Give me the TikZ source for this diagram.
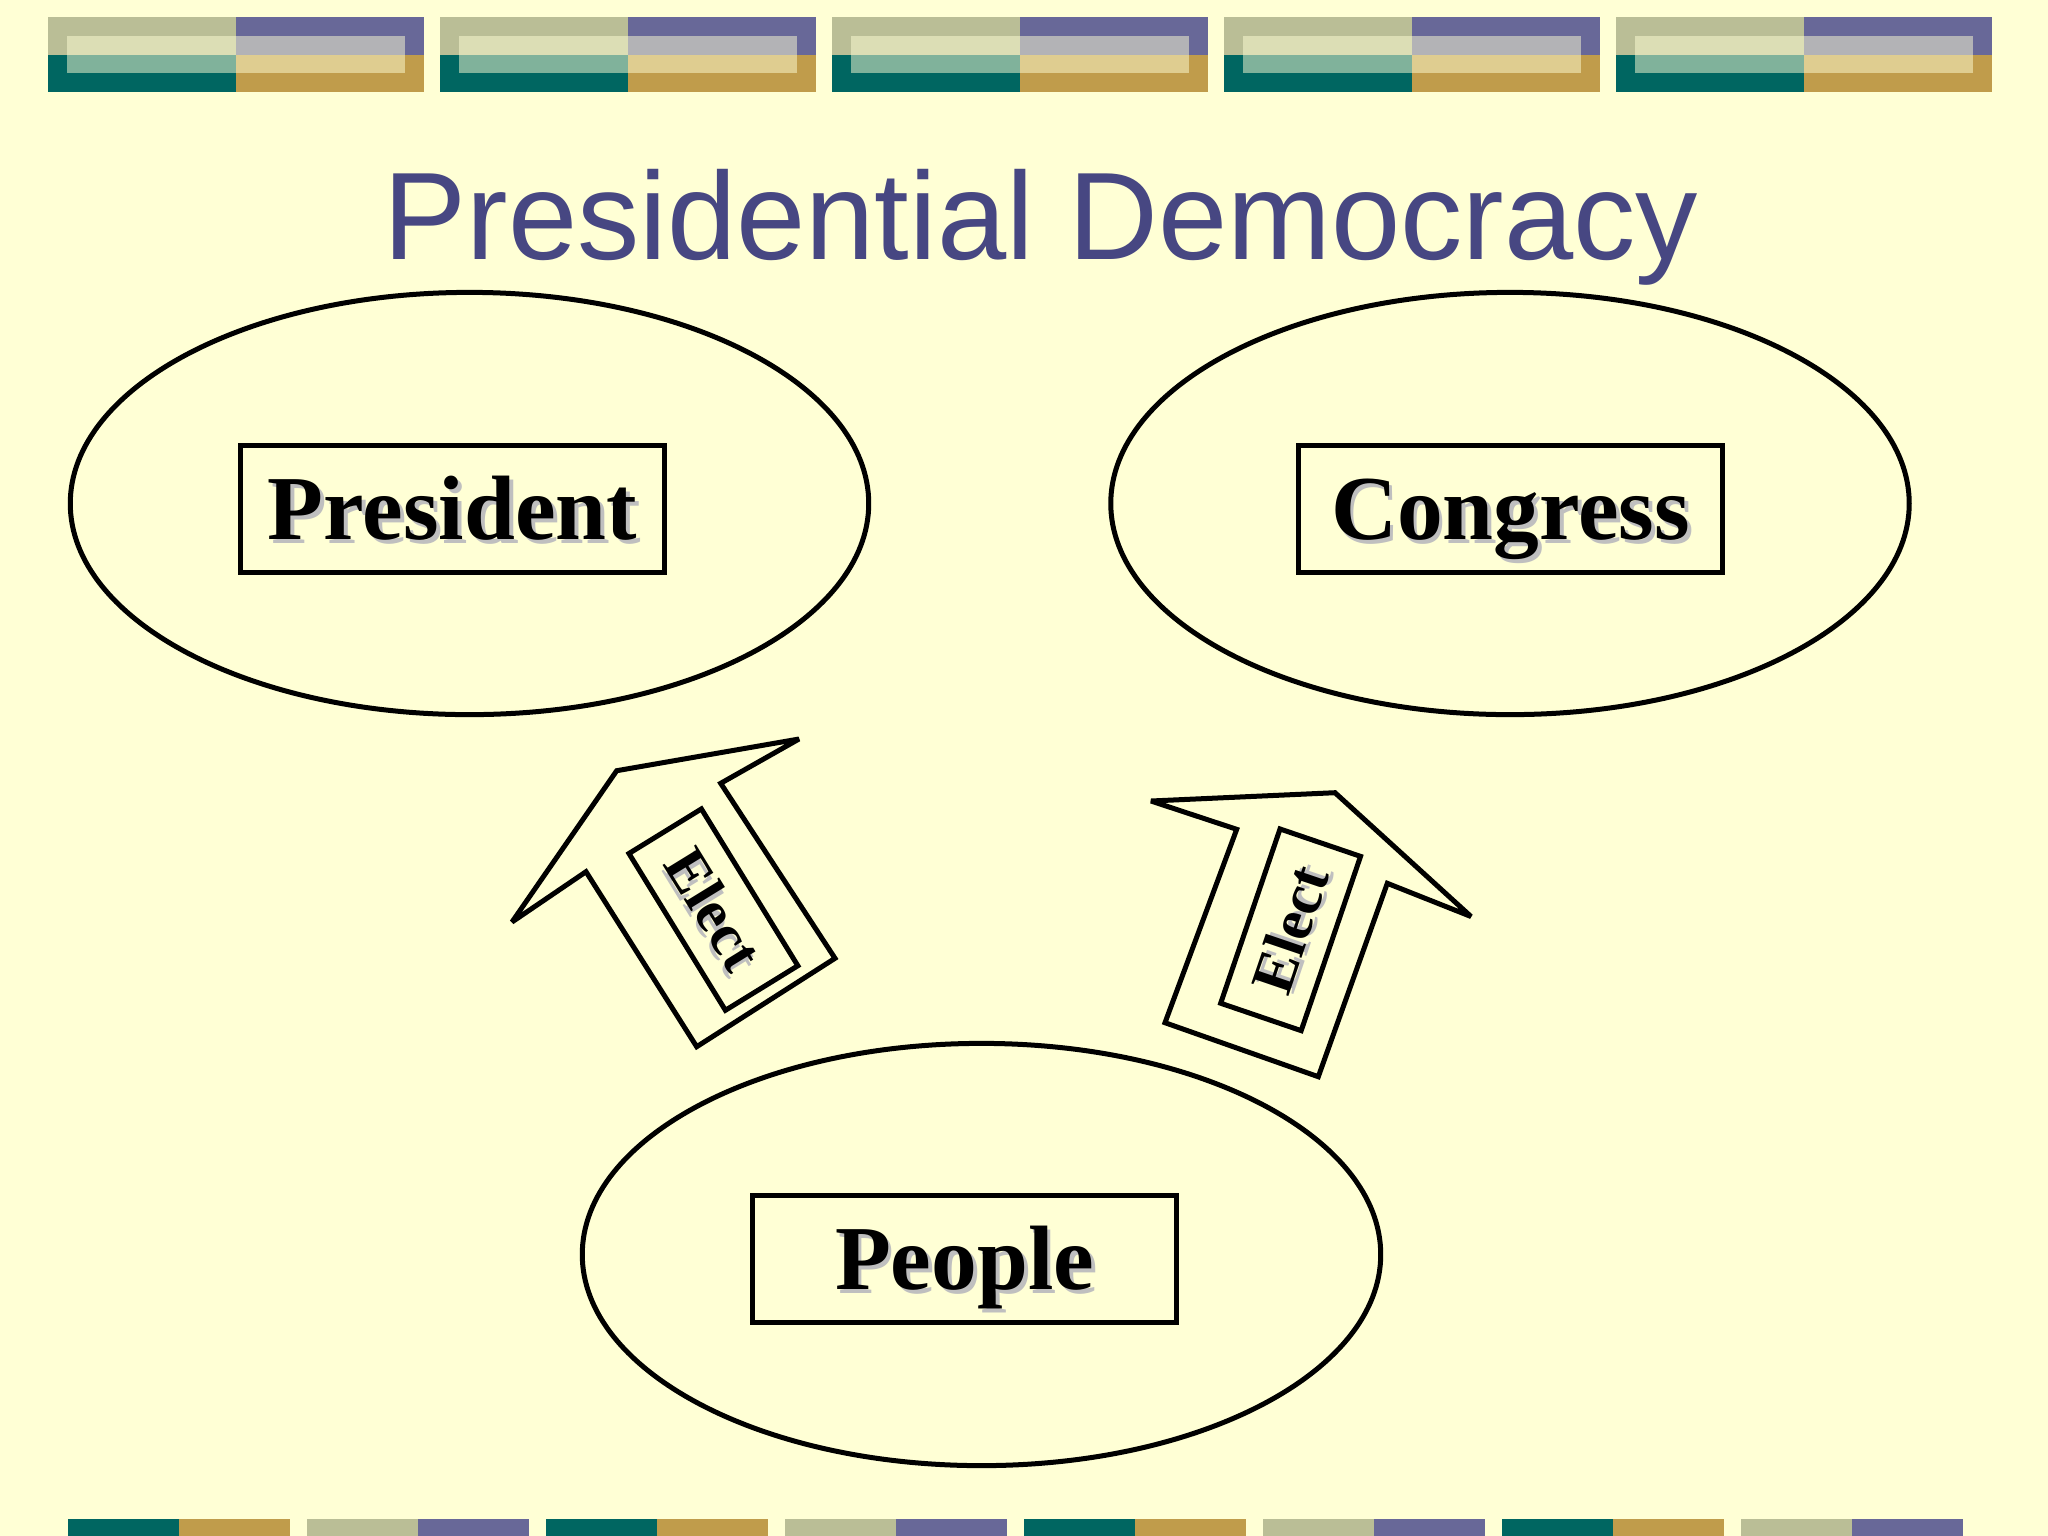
\documentclass[tikz,border=0pt]{standalone}
\usepackage{fontspec}
\setmainfont{Liberation Serif}
\newfontfamily\titlefont{Liberation Sans}
\usetikzlibrary{shapes.geometric}
\definecolor{bg}{HTML}{FFFFD5}
\definecolor{bnrKhaki}{HTML}{BABE96}
\definecolor{bnrPurple}{HTML}{686898}
\definecolor{bnrTeal}{HTML}{006661}
\definecolor{bnrGold}{HTML}{C09C4B}
\definecolor{titleC}{HTML}{474782}
\newcommand\shadowed[1]{\leavevmode\rlap{\kern1.1pt\raisebox{-1.1pt}{\color{black!25}#1}}#1}
\begin{document}
\begin{tikzpicture}[x=0.01cm,y=-0.01cm,
  ell/.style={ellipse,draw,line width=0.05cm,minimum width=7.98cm,minimum height=4.22cm,inner sep=0pt},
  lblbox/.style={draw,line width=0.05cm,minimum width=4.24cm,minimum height=1.27cm,inner sep=0pt,
     font=\bfseries\fontsize{26}{30}\selectfont,text height=17.2pt,text depth=0pt},
  electbox/.style={draw,line width=0.05cm,minimum width=1.84cm,minimum height=0.85cm,inner sep=0pt,
     font=\bfseries\fontsize{17}{20}\selectfont,text height=11.2pt,text depth=0pt},
  blockarrow/.style={draw,line width=0.05cm,line join=miter,miter limit=4,fill=bg}]
\fill[bg] (0,0) rectangle (2048,1536);
\useasboundingbox (0,0) rectangle (2048,1536);
% top banner
\foreach \i in {0,...,4}{
  \begin{scope}[shift={(48+392*\i,17)}]
    \fill[bnrKhaki] (0,0) rectangle (188,37.5);
    \fill[bnrPurple] (188,0) rectangle (376,37.5);
    \fill[bnrTeal] (0,37.5) rectangle (188,75);
    \fill[bnrGold] (188,37.5) rectangle (376,75);
    \fill[bg,fill opacity=0.5] (18.8,18.75) rectangle (357.2,56.25);
  \end{scope}
}
% bottom banner
\foreach \i in {0,2,4,6}{
  \fill[bnrTeal] (68+239*\i,1519) rectangle (179+239*\i,1540);
  \fill[bnrGold] (179+239*\i,1519) rectangle (290+239*\i,1540);
}
\foreach \i in {1,3,5,7}{
  \fill[bnrKhaki] (68+239*\i,1519) rectangle (179+239*\i,1540);
  \fill[bnrPurple] (179+239*\i,1519) rectangle (290+239*\i,1540);
}
% title
\node[font=\titlefont\fontsize{35.4}{40}\selectfont,text=titleC,anchor=base,inner sep=0pt] (title) at (1041,259) {Presidential Democracy};
% ellipses
\node[ell] (presE) at (469.5,503.5) {};
\node[ell] (congE) at (1510,503.5) {};
\node[ell] (peopE) at (981.5,1254.5) {};
% labels
\node[lblbox] (presB) at (452.5,509) {\shadowed{President}};
\node[lblbox] (congB) at (1510.5,509) {\shadowed{Congress}};
\node[lblbox] (peopB) at (964.5,1259) {\shadowed{People}};
% block arrows
\draw[blockarrow] (616.7,770.7) -- (799,739) -- (720.7,783.3) -- (835,958.3) -- (696.7,1046.7) -- (586,871.7) -- (512,922) -- cycle;
\draw[blockarrow] (1335,792.7) -- (1471,916.5) -- (1387.3,883.3) -- (1318.3,1076.7) -- (1165,1022.7) -- (1236.7,829.3) -- (1151,801) -- cycle;
\node[electbox,rotate=-58.4] (elect1) at (713.4,909.6) {\shadowed{Elect}};
\node[electbox,rotate=71.2] (elect2) at (1290.6,929.8) {\shadowed{Elect}};
\end{tikzpicture}
\end{document}
